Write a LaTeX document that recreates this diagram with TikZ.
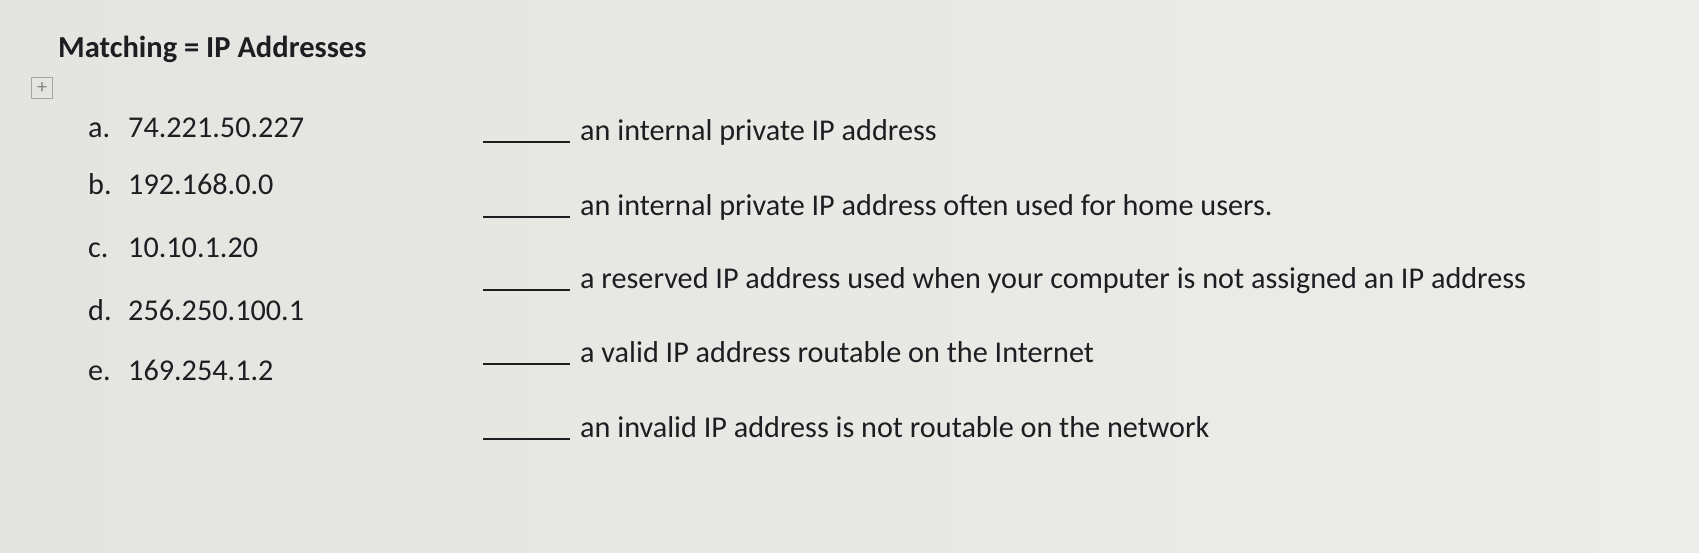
\documentclass[tikz,border=0pt]{standalone}
\usepackage{fontspec}
\setmainfont{Carlito}
\definecolor{bgA}{HTML}{E4E5E0}
\definecolor{bgB}{HTML}{ECEDE8}
\definecolor{ink}{HTML}{1E1E22}
\begin{document}
\begin{tikzpicture}[x=1pt,y=-1pt,
  txt/.style={anchor=base west,inner sep=0pt,text=ink,font=\fontsize{30.2}{33}\selectfont},
  blank/.style={draw=ink,line width=1.3pt}]
\shade[left color=bgA,right color=bgB] (0,0) rectangle (1699,552);
\useasboundingbox (0,0) rectangle (1699,552);
\node[txt,font=\bfseries\fontsize{30.5}{33}\selectfont] (title) at (58,57) {Matching = IP Addresses};
\node[draw=gray!70,line width=1pt,minimum size=21pt,inner sep=0pt,text=gray] (icon) at (42,88) {\fontsize{20}{20}\selectfont+};
\foreach \l/\v/\y [count=\i] in {a./74.221.50.227/137, b./192.168.0.0/194, c./10.10.1.20/257, d./256.250.100.1/320, e./169.254.1.2/380}{
  \node[txt] (l\i) at (88,\y) {\l};
  \node[txt] (v\i) at (128,\y) {\v};
}
\foreach \t/\y [count=\i] in {an internal private IP address/140, an internal private IP address often used for home users./215, a reserved IP address used when your computer is not assigned an IP address/288, a valid IP address routable on the Internet/362, an invalid IP address is not routable on the network/437}{
  \coordinate (bs\i) at (483,\y+2);
  \coordinate (be\i) at (570,\y+2);
  \draw[blank] (bs\i) -- (be\i);
  \node[txt] (r\i) at (580,\y) {\t};
}
\end{tikzpicture}
\end{document}
